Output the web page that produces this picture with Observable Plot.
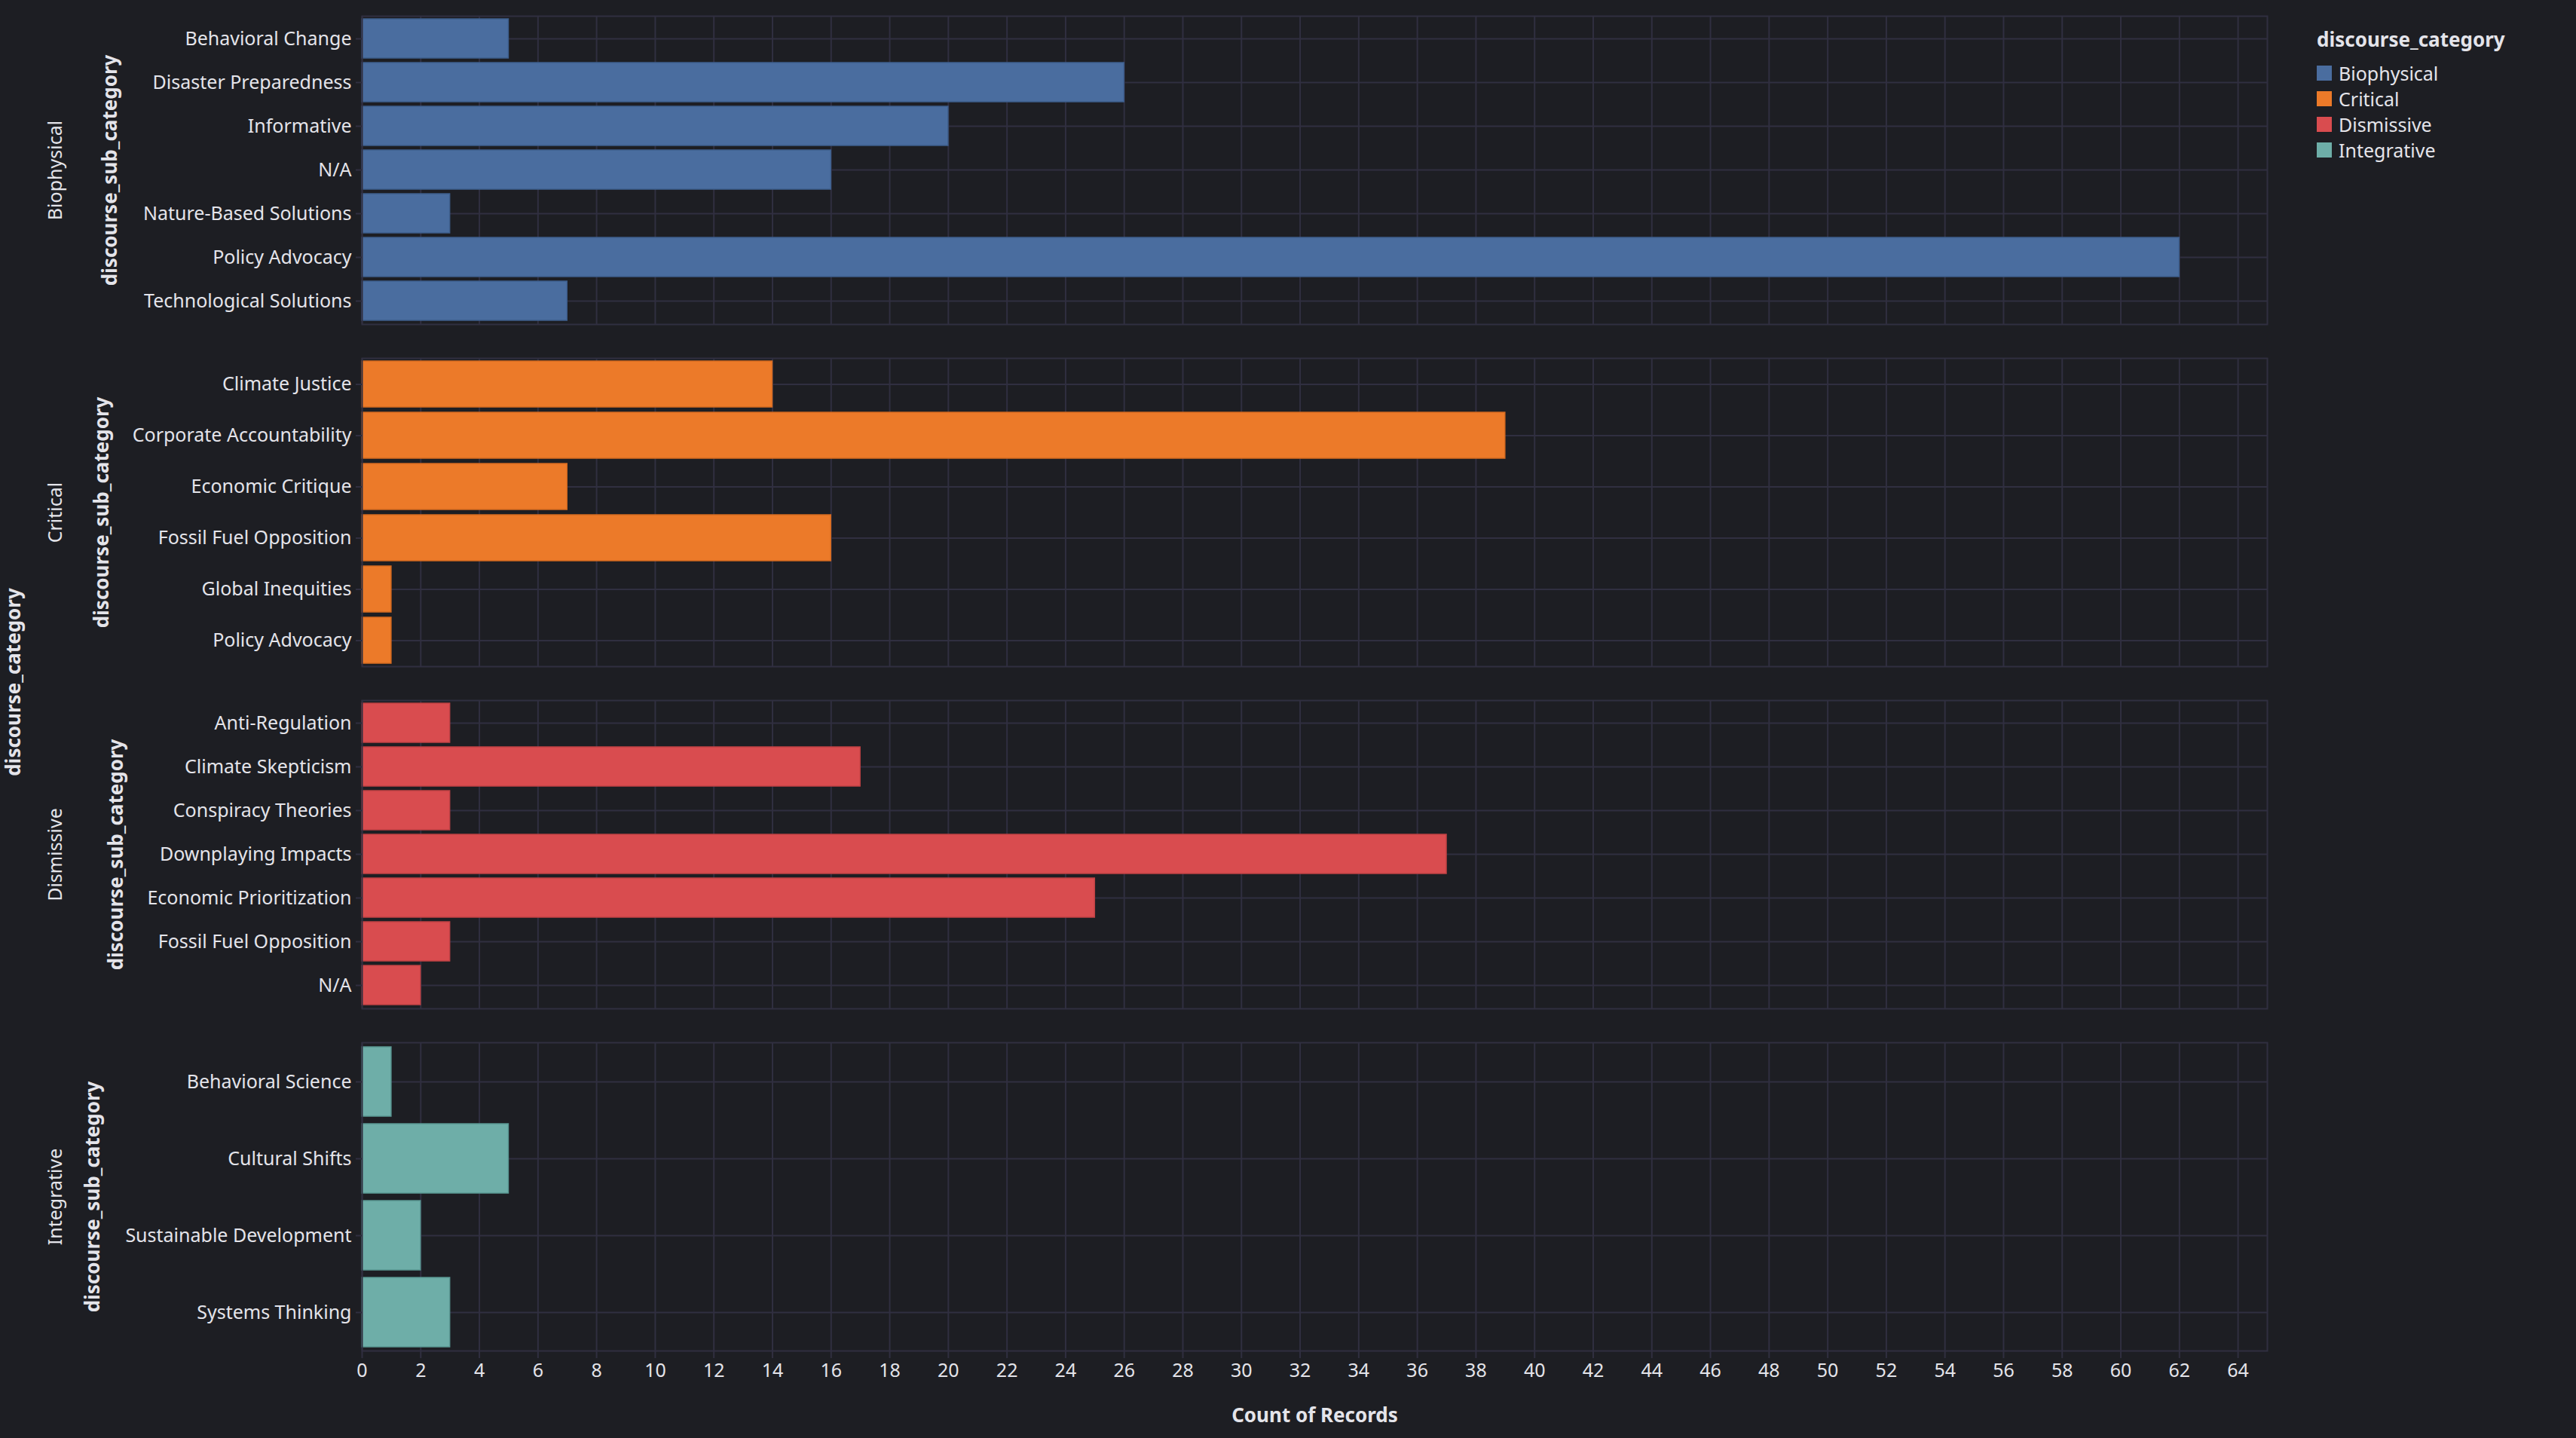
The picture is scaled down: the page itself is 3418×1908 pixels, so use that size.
<!DOCTYPE html>
<html>
<head>
<meta charset="utf-8">
<script src="https://cdn.jsdelivr.net/npm/d3@7"></script>
<script src="https://cdn.jsdelivr.net/npm/@observablehq/plot@0.6"></script>
<style>
  html, body { margin: 0; padding: 0; background: #1d1e23; width: 3418px; height: 1908px; overflow: hidden; }
  #root { position: relative; width: 3418px; height: 1908px; font-family: "Noto Sans", "Open Sans", sans-serif; color: #e4e4ea; }
  .panel { position: absolute; left: 0; }
  .facet-label { position: absolute; font-size: 25px; white-space: nowrap; transform-origin: center center; }
  .main-title { position: absolute; font-size: 26px; font-weight: 700; white-space: nowrap; }
  [aria-label="y-axis label"], [aria-label="x-axis label"] { font-weight: 700; font-size: 26px; }
  .legend { position: absolute; left: 3074px; top: 36px; }
  .legend .ttl { font-size: 26px; font-weight: 700; margin-bottom: 12px; line-height: 32px; }
  .legend .item { display: flex; align-items: center; height: 34px; font-size: 25px; }
  .legend .sw { width: 20px; height: 20px; margin-right: 9px; }
</style>
</head>
<body>
<div id="root"></div>
<script>
// ---------- data ----------
const categories = ["Biophysical", "Critical", "Dismissive", "Integrative"];
const categoryColors = ["#4a6d9f", "#ec7a29", "#d94c4f", "#6eaea8"];
const categoryStrokes = ["#3e5f8d", "#d56b20", "#c04244", "#5a9893"];

const biophysicalSubs = ["Behavioral Change", "Disaster Preparedness", "Informative", "N/A", "Nature-Based Solutions", "Policy Advocacy", "Technological Solutions"];
const biophysicalCounts = [5, 26, 20, 16, 3, 62, 7];

const criticalSubs = ["Climate Justice", "Corporate Accountability", "Economic Critique", "Fossil Fuel Opposition", "Global Inequities", "Policy Advocacy"];
const criticalCounts = [14, 39, 7, 16, 1, 1];

const dismissiveSubs = ["Anti-Regulation", "Climate Skepticism", "Conspiracy Theories", "Downplaying Impacts", "Economic Prioritization", "Fossil Fuel Opposition", "N/A"];
const dismissiveCounts = [3, 17, 3, 37, 25, 3, 2];

const integrativeSubs = ["Behavioral Science", "Cultural Shifts", "Sustainable Development", "Systems Thinking"];
const integrativeCounts = [1, 5, 2, 3];

const xTicks = [0, 2, 4, 6, 8, 10, 12, 14, 16, 18, 20, 22, 24, 26, 28, 30, 32, 34, 36, 38, 40, 42, 44, 46, 48, 50, 52, 54, 56, 58, 60, 62, 64];
const xDomain = [0, 65];

const xTitle = "Count of Records";
const yTitle = "discourse_sub_category";
const rowTitle = "discourse_category";

// ---------- layout ----------
const subsList = [biophysicalSubs, criticalSubs, dismissiveSubs, integrativeSubs];
const countsList = [biophysicalCounts, criticalCounts, dismissiveCounts, integrativeCounts];
const panelTops = [21, 475, 929, 1383];
const panelH = 409;
const yLabelOffsets = [344, 355, 336, 367];
const gridColor = "#302f40";
const textColor = "#e4e4ea";

const root = document.getElementById("root");

categories.forEach((cat, i) => {
  const data = subsList[i].map((s, j) => ({sub: s, count: countsList[i][j], cat}));
  const last = i === categories.length - 1;
  const mt = 2;
  const mb = last ? 115 : 2;
  const chart = Plot.plot({
    width: 3020,
    height: panelH + mt + mb,
    marginLeft: 480,
    marginRight: 12,
    marginTop: mt,
    marginBottom: mb,
    style: {background: "transparent", color: textColor, fontSize: "25px", fontFamily: '"Noto Sans", "Open Sans", sans-serif'},
    x: {domain: xDomain, ticks: xTicks},
    y: {domain: subsList[i], paddingInner: 0.1, paddingOuter: 0.05},
    marks: [
      Plot.gridX(xTicks, {stroke: gridColor, strokeOpacity: 1, strokeWidth: 2}),
      Plot.gridY({stroke: gridColor, strokeOpacity: 1, strokeWidth: 2}),
      Plot.barX(data, {x: "count", y: "sub", fill: categoryColors[i], stroke: categoryStrokes[i], strokeWidth: 1.5}),
      Plot.frame({stroke: gridColor, strokeWidth: 2}),
      Plot.axisY({tickSize: 8, tickPadding: 6, stroke: gridColor, strokeWidth: 2, label: yTitle, labelAnchor: "center", labelArrow: "none", labelOffset: yLabelOffsets[i]}),
      last
        ? Plot.axisX({ticks: xTicks, tickSize: 10, tickPadding: 7, stroke: gridColor, strokeWidth: 2, label: xTitle, labelAnchor: "center", labelArrow: "none", labelOffset: 94})
        : Plot.axisX({ticks: [], label: null})
    ]
  });
  const wrap = document.createElement("div");
  wrap.className = "panel";
  wrap.style.top = (panelTops[i] - mt) + "px";
  wrap.appendChild(chart);
  root.appendChild(wrap);

  // facet row label
  const fl = document.createElement("div");
  fl.className = "facet-label";
  fl.textContent = cat;
  root.appendChild(fl);
  const w = fl.offsetWidth, h = fl.offsetHeight;
  fl.style.left = (72 - w / 2) + "px";
  fl.style.top = (panelTops[i] + panelH / 2 - h / 2) + "px";
  fl.style.transform = "rotate(-90deg)";
});

// overall row title
const rt = document.createElement("div");
rt.className = "main-title";
rt.textContent = rowTitle;
root.appendChild(rt);
{
  const w = rt.offsetWidth, h = rt.offsetHeight;
  rt.style.left = (17 - w / 2) + "px";
  rt.style.top = (905 - h / 2) + "px";
  rt.style.transform = "rotate(-90deg)";
}

// legend
const lg = document.createElement("div");
lg.className = "legend";
lg.innerHTML = `<div class="ttl">${rowTitle}</div>` +
  categories.map((c, i) => `<div class="item"><div class="sw" style="background:${categoryColors[i]}"></div>${c}</div>`).join("");
root.appendChild(lg);
</script>
</body>
</html>
